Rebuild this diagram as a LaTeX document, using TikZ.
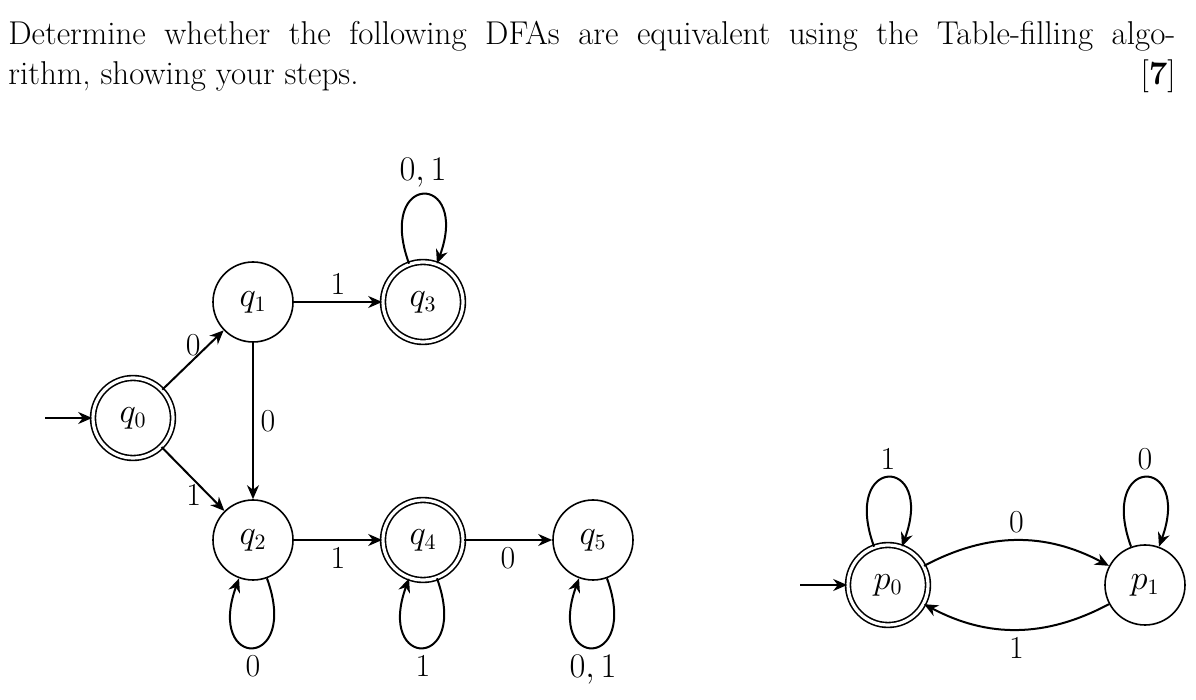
\documentclass[tikz,border=0pt]{standalone}
\usetikzlibrary{arrows.meta,automata}
\begin{document}
\begin{tikzpicture}[x=0.5pt,y=-0.5pt,
  st/.style={circle,draw,line width=0.8pt,minimum size=40pt,inner sep=0pt,font=\fontsize{16}{16}\selectfont},
  acc/.style={st,double,double distance=1.6pt,minimum size=40pt},
  ed/.style={-{Stealth[length=7pt,width=6pt]},line width=1pt},
  lb/.style={font=\fontsize{16}{16}\selectfont},
  lp/.style={ed,looseness=9}]
\useasboundingbox (0,0) rectangle (1196,700);
\node[anchor=base west,inner sep=0pt,font=\fontsize{16.5}{20}\selectfont] (t1) at (8,45) {\makebox[583.5pt][s]{Determine whether the following DFAs are equivalent using the Table-filling algo-}};
\node[anchor=base west,inner sep=0pt,font=\fontsize{16.5}{20}\selectfont] (t2) at (8,85) {rithm, showing your steps.};
\node[anchor=base east,inner sep=0pt,font=\fontsize{16.5}{20}\selectfont] (t3) at (1176,85) {[\textbf{7}]};
\node[acc] (q0) at (133,418) {$q_0$};
\node[st] (q1) at (253,302) {$q_1$};
\node[acc] (q3) at (423,302) {$q_3$};
\node[st] (q2) at (253,540) {$q_2$};
\node[acc] (q4) at (423,540) {$q_4$};
\node[st] (q5) at (593,540) {$q_5$};
\node[acc] (p0) at (888,585) {$p_0$};
\node[st] (p1) at (1145,585) {$p_1$};
\coordinate (i0) at (45,418);
\coordinate (i1) at (800,585);
\draw[ed] (i0) -- (q0);
\draw[ed] (i1) -- (p0);
\draw[ed] (q0) -- node[lb,pos=0.75,left] {0} (q1);
\draw[ed] (q0) -- node[lb,pos=0.75,left] {1} (q2);
\draw[ed] (q1) -- node[lb,above] {1} (q3);
\draw[ed] (q1) -- node[lb,right] {0} (q2);
\draw[ed] (q2) -- node[lb,below] {1} (q4);
\draw[ed] (q4) -- node[lb,below] {0} (q5);
\draw[lp] (q3) to[out=110,in=70] node[lb,above] {$0,1$} (q3);
\draw[lp] (q2) to[out=-70,in=-110] node[lb,below] {0} (q2);
\draw[lp] (q4) to[out=-70,in=-110] node[lb,below] {1} (q4);
\draw[lp] (q5) to[out=-70,in=-110] node[lb,below] {$0,1$} (q5);
\draw[lp] (p0) to[out=110,in=70] node[lb,above] {1} (p0);
\draw[lp] (p1) to[out=110,in=70] node[lb,above] {0} (p1);
\draw[ed] (p0) to[bend left=28] node[lb,above] {0} (p1);
\draw[ed] (p1) to[bend left=28] node[lb,below] {1} (p0);
\end{tikzpicture}
\end{document}
